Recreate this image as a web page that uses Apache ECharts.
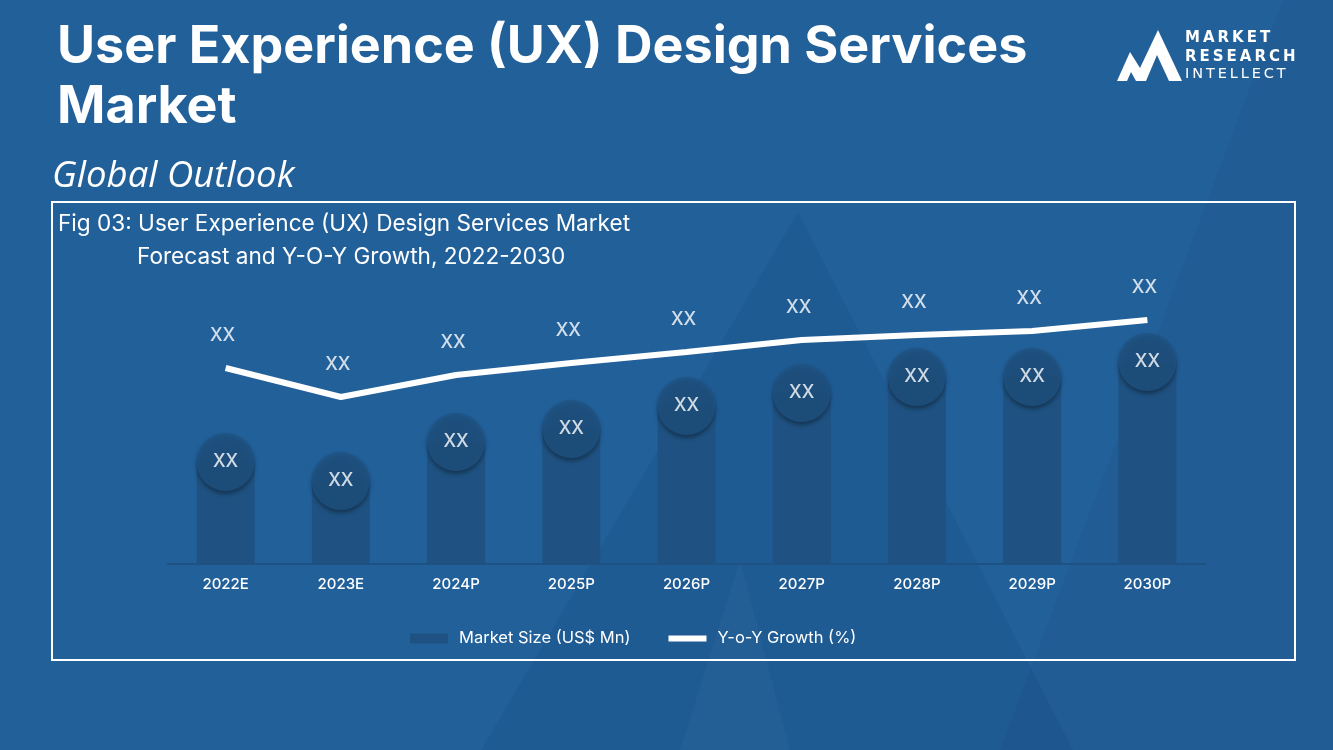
<!DOCTYPE html>
<html><head><meta charset="utf-8">
<script src="https://cdn.jsdelivr.net/npm/echarts@6/dist/echarts.min.js"></script>
<style>html,body{margin:0;padding:0;background:#22609a;}#c{width:1333px;height:750px;}</style>
</head><body><div id="c"></div>
<script>
const categories = ['2022E','2023E','2024P','2025P','2026P','2027P','2028P','2029P','2030P'];
const marketSize = [102, 83, 122, 135, 158, 171, 187, 187, 202];
const yoyGrowth = [196, 167, 189, 201, 212, 224, 229, 233, 244];
const barLabels = ['XX','XX','XX','XX','XX','XX','XX','XX','XX'];
const lineLabels = ['XX','XX','XX','XX','XX','XX','XX','XX','XX'];

const bg = '#22609a';
const barColor = '#1f5282';
const T = '\u2009';
const chart = echarts.init(document.getElementById('c'), null, {renderer:'canvas'});
chart.setOption({
  backgroundColor: bg,
  animation: false,
  textStyle: {fontFamily: 'Inter, Roboto, sans-serif'},
  graphic: [
    {type:'polygon', silent:true, z:0, shape:{points:[[798,212],[481,750],[1073,750]]}, style:{fill:'rgba(10,40,80,0.09)'}},
    {type:'polygon', silent:true, z:0, shape:{points:[[680,750],[740,560],[790,750]]}, style:{fill:'rgba(255,255,255,0.02)'}},
    {type:'polygon', silent:true, z:0, shape:{points:[[1283,0],[1333,0],[1333,750],[1000,750]]}, style:{fill:'rgba(10,40,80,0.06)'}},
    {type:'text', left:57, top:17, style:{text:'User Experience (UX) Design Services\nMarket', fill:'#fff', font:'bold 52px Inter, Roboto, sans-serif', lineHeight:60}},
    {type:'text', left:52, top:158, style:{text:'Global Outlook', fill:'#fff', font:'italic 36.5px "Open Sans", Lato, sans-serif'}},
    {type:'rect', shape:{x:52, y:202, width:1243, height:458}, style:{fill:'none', stroke:'#ffffff', lineWidth:2}},
    {type:'text', left:58, top:213, style:{text:'Fig 03: User Experience (UX) Design Services Market', fill:'#fff', font:'22.6px Inter, Roboto, sans-serif'}},
    {type:'text', left:137, top:246, style:{text:'Forecast and Y-O-Y Growth, 2022-2030', fill:'#fff', font:'22.6px Inter, Roboto, sans-serif'}},
    {type:'polygon', shape:{points:[[1117,81],[1130,52],[1140,68],[1158,30],[1182,81],[1169,81],[1157,55],[1146,81],[1136,81],[1131,72],[1127,81]]}, style:{fill:'#fff'}},
    {type:'text', left:1185, top:31, style:{text:['M','A','R','K','E','T'].join(T), fill:'#fff', font:'bold 15px "DejaVu Sans", sans-serif'}},
    {type:'text', left:1185, top:50, style:{text:['R','E','S','E','A','R','C','H'].join(T), fill:'#fff', font:'bold 15px "DejaVu Sans", sans-serif'}},
    {type:'text', left:1185, top:67, style:{text:['I','N','T','E','L','L','E','C','T'].join(T), fill:'#fff', font:'14.5px "DejaVu Sans", sans-serif'}}
  ],
  legend: {
    top: 625, left: 405, itemWidth: 38, itemHeight: 10, itemGap: 38,
    textStyle: {color:'#fff', fontSize:16.5, fontFamily:'Inter, Roboto, sans-serif', padding:[0,0,0,6]},
    data: [
      {name:'Market Size (US$ Mn)', icon:'rect'},
      {name:'Y-o-Y Growth (%)', icon:'path://M0,0H38V6H0Z', itemStyle:{color:'#fff'}}
    ]
  },
  grid: {left:168, right:128, top:264, bottom:186},
  xAxis: {
    type:'category', data: categories,
    axisLine:{lineStyle:{color:'#1d5282', width:2}}, axisTick:{show:false},
    axisLabel:{color:'#fff', fontSize:15, fontWeight:500, margin:13}
  },
  yAxis: [
    {type:'value', min:0, max:300, show:false, splitLine:{show:false}},
    {type:'value', min:0, max:300, show:false, splitLine:{show:false}}
  ],
  series: [
    {name:'Market Size (US$ Mn)', type:'bar', data: marketSize, barWidth:58, itemStyle:{color:barColor}, z:2},
    {name:'circles', type:'scatter', data: marketSize, symbolSize:58, z:3,
     itemStyle:{color:barColor, shadowColor:'rgba(0,0,0,0.45)', shadowBlur:4, shadowOffsetY:3},
     label:{show:true, position:'inside', color:'#fff', fontSize:18, fontWeight:500, formatter:(p)=>barLabels[p.dataIndex]}},
    {name:'Y-o-Y Growth (%)', type:'line', yAxisIndex:1, data: yoyGrowth, symbol:'none', z:4,
     lineStyle:{color:'#fff', width:6}, itemStyle:{color:'#fff'}},
    {name:'lineLabels', type:'scatter', yAxisIndex:1, data: yoyGrowth, symbolSize:1, z:4,
     itemStyle:{color:'rgba(0,0,0,0)'},
     label:{show:true, position:'top', distance:23, offset:[-3,0], color:'#fff', fontSize:18, fontWeight:500, formatter:(p)=>lineLabels[p.dataIndex]}}
  ]
});
</script></body></html>
